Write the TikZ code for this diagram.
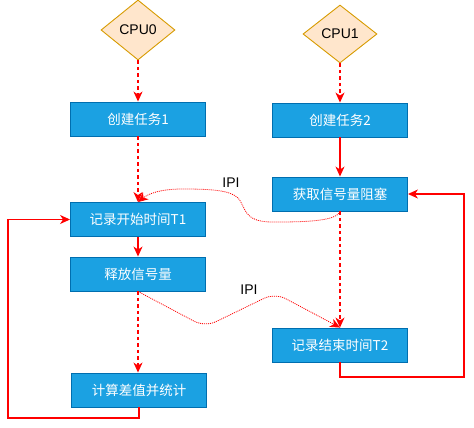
\documentclass[tikz,border=0pt]{standalone}
\usepackage{fontspec}
\setmainfont{Liberation Sans}
\newfontfamily\cjk{Noto Sans CJK SC}
\usetikzlibrary{shapes.geometric,arrows.meta}
\definecolor{boxfill}{HTML}{1BA1E2}
\definecolor{boxline}{HTML}{006EAF}
\definecolor{dfill}{HTML}{FFE6CC}
\definecolor{dline}{HTML}{D79B00}
\definecolor{redl}{HTML}{FF0000}
\tikzset{
  procbox/.style={rectangle, draw=boxline, fill=boxfill, line width=0.9pt, minimum width=135pt, minimum height=34pt, inner sep=0pt, text=white, font=\cjk\fontsize{13.5}{15}\selectfont},
  cpudiamond/.style={diamond, draw=dline, fill=dfill, line width=0.9pt, minimum width=74pt, minimum height=60pt, inner sep=0pt, font=\fontsize{14}{16}\selectfont},
  arr/.style={color=redl, line width=1.2pt, -{Stealth[length=10pt,width=9pt,inset=3pt]}},
  dasharr/.style={arr, dash pattern=on 3.5pt off 3pt},
  ipiarr/.style={arr, line width=0.8pt, dash pattern=on 1pt off 1pt, rounded corners=12pt},
  lbl/.style={font=\fontsize{14}{16}\selectfont, inner sep=0pt}
}
\begin{document}
\begin{tikzpicture}[x=1pt,y=-1pt]
\useasboundingbox (0,0) rectangle (474,428);
\node[cpudiamond] (cpu0) at (138,30) {CPU0};
\node[cpudiamond, minimum height=58pt] (cpu1) at (340,34) {CPU1};
\node[procbox] (task1) at (138,119) {创建任务1};
\node[procbox] (task2) at (340,120) {创建任务2};
\node[procbox] (get) at (340,194) {获取信号量阻塞};
\node[procbox] (t1) at (138,219.5) {记录开始时间T1};
\node[procbox] (rel) at (138,274) {释放信号量};
\node[procbox] (calc) at (139,390) {计算差值并统计};
\node[procbox] (t2) at (340,345) {记录结束时间T2};

\draw[dasharr] (cpu0.south) -- (task1.north);
\draw[dasharr] (task1.south) -- (t1.north);
\draw[dasharr] (cpu1.south) -- (task2.north);
\draw[arr] (task2.south) -- (get.north);
\draw[arr] (t1.south) -- (rel.north);
\draw[dasharr] (rel.south) -- (rel.south |- calc.north);
\draw[dasharr] (get.south) -- (t2.north);

\coordinate (lc1) at (8,418);
\draw[arr] (calc.south) |- (lc1) |- (t1.west);
\coordinate (rc1) at (464,377);
\draw[arr] (t2.south) |- (rc1) |- (get.east);

\draw[arr, line width=0.8pt, dash pattern=on 1pt off 1pt]
  (get.south) .. controls (336,222) and (300,222) .. (272,222)
  .. controls (242,222) and (246,206) .. (238,198)
  .. controls (230,190) and (210,189) .. (182,189)
  .. controls (160,189) and (148,194) .. (t1.north);
\node[lbl] (ipi1) at (231,183) {IPI};

\coordinate (w1) at (205,327);
\coordinate (w2) at (275,293);
\draw[ipiarr] (rel.south) -- (w1) -- (w2) -- (t2.north);
\node[lbl] (ipi2) at (249,290) {IPI};
\end{tikzpicture}
\end{document}
